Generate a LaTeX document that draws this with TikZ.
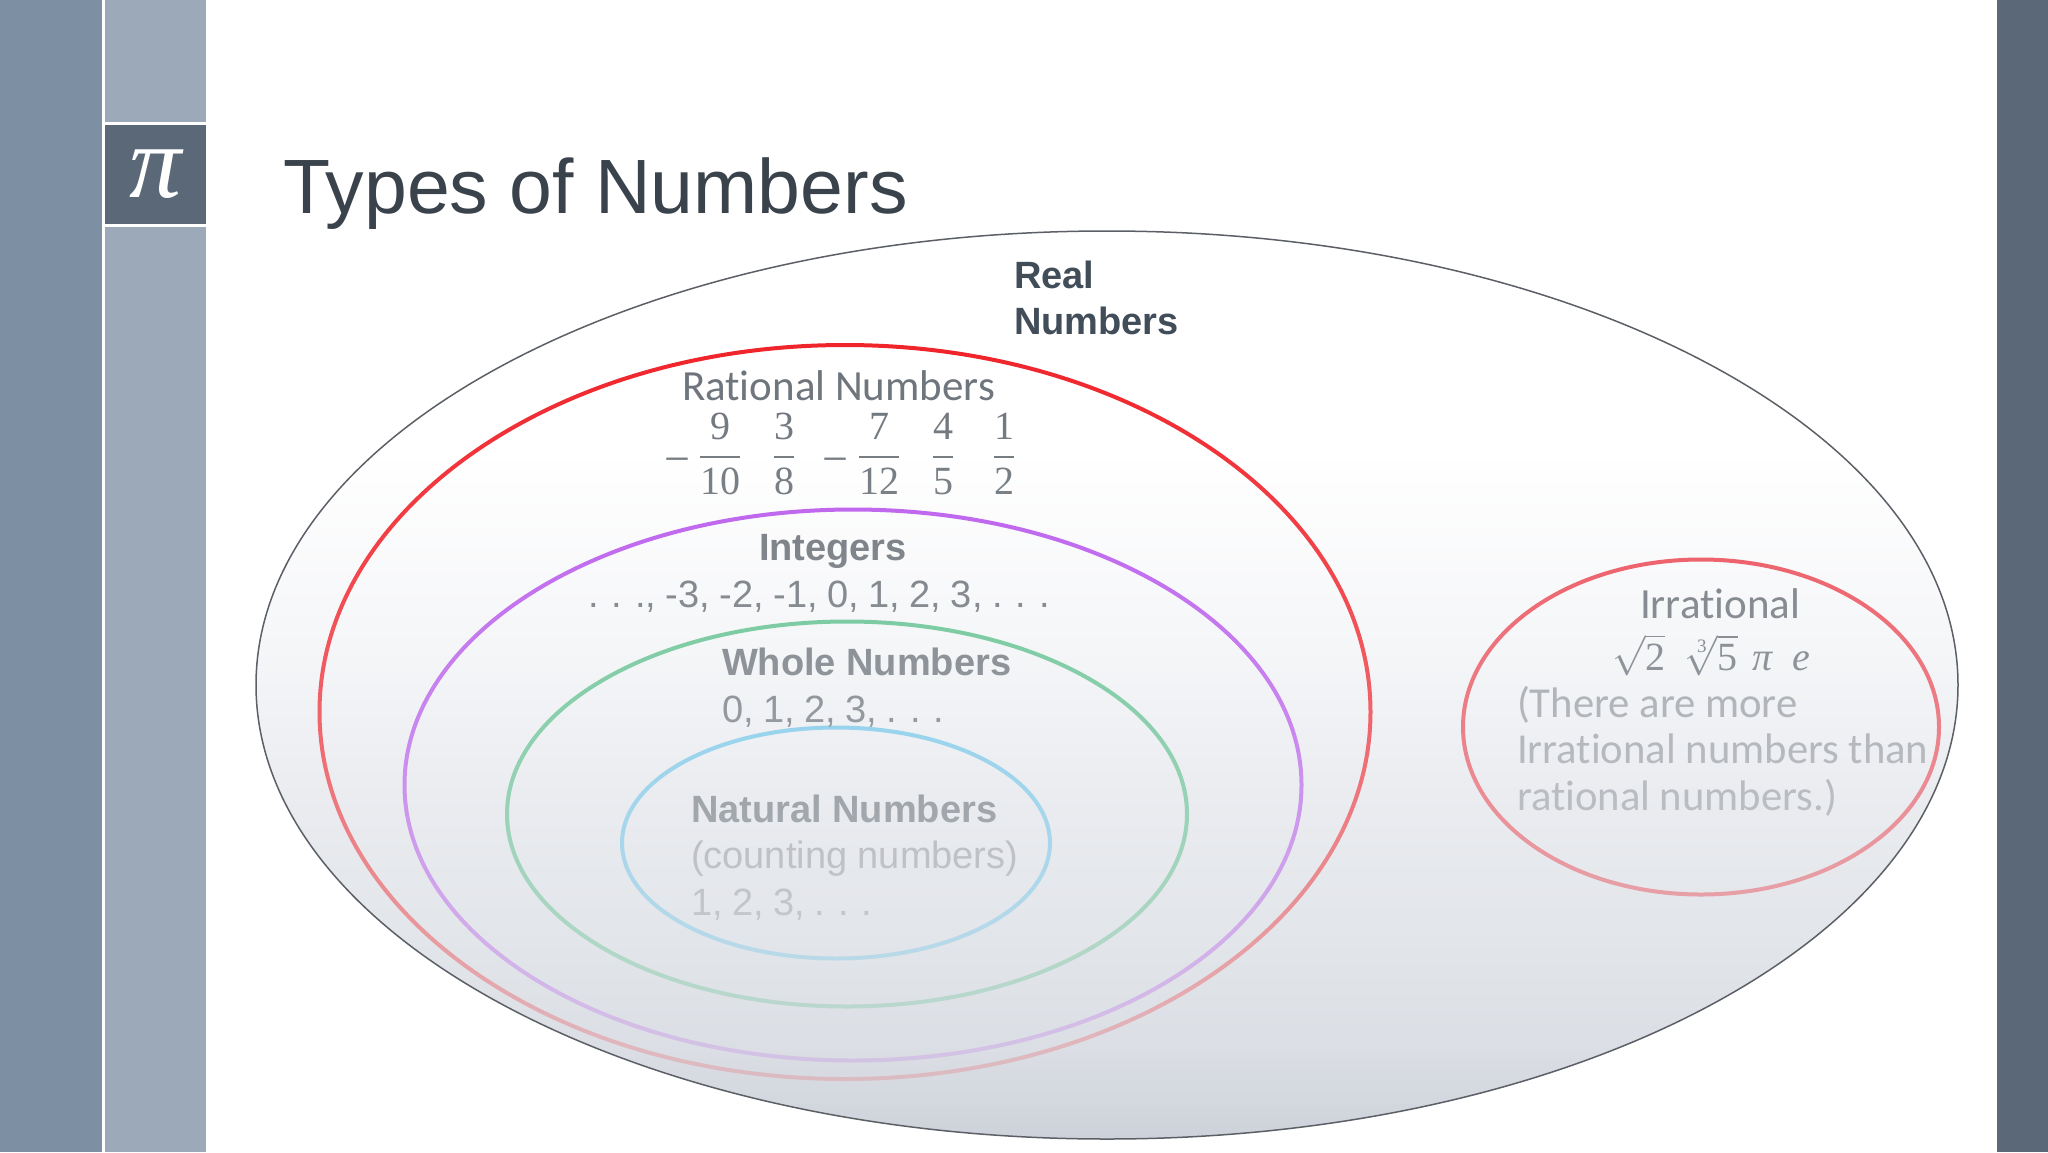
\documentclass[tikz,border=0pt]{standalone}
\usepackage{fix-cm}
\usepackage{fontspec}
\setmainfont{Liberation Sans}
\newfontfamily\softfont[Ligatures=NoCommon]{Carlito}
\newfontfamily\digitfont{Liberation Serif}
\usetikzlibrary{shapes.geometric,fadings}
\definecolor{barlight}{HTML}{7C8FA3}
\definecolor{barmid}{HTML}{9CA9B8}
\definecolor{bardark}{HTML}{5B6877}
\definecolor{titleink}{HTML}{3A424B}
\definecolor{realink}{HTML}{414D59}
\definecolor{numink}{HTML}{6B7279}
\definecolor{paleink}{HTML}{979CA2}
\definecolor{rimgray}{HTML}{5C6066}
\definecolor{ratred}{HTML}{F0242B}
\definecolor{intpurple}{HTML}{B855EC}
\definecolor{wholegreen}{HTML}{5CC08C}
\definecolor{natblue}{HTML}{6FC6EA}
\definecolor{irrred}{HTML}{EB4A55}
\definecolor{shadea}{HTML}{CDD2DA}
\definecolor{shadeb}{HTML}{DBDEE4}
\definecolor{shadec}{HTML}{E2E5E9}
\definecolor{shaded}{HTML}{EAECF0}
\definecolor{shadee}{HTML}{F5F6F8}
\pgfdeclareverticalshading{realshade}{100bp}{color(0bp)=(shadea); color(25bp)=(shadea); color(30bp)=(shadeb); color(36bp)=(shadec); color(44bp)=(shaded); color(52bp)=(shadee); color(63bp)=(white); color(100bp)=(white)}
\pgfdeclareverticalshading{veilshade}{100bp}{color(0bp)=(black!10); color(1.1bp)=(black!10); color(8.85bp)=(black!20); color(22.3bp)=(black!45); color(36.6bp)=(black!67); color(51.4bp)=(black!85); color(70bp)=(black); color(100bp)=(black)}
\pgfdeclarefading{veilfade}{\pgfuseshading{veilshade}}
\newcommand\fracnum[2]{$\displaystyle{\hbox{\digitfont #1}\above 2.5pt\hbox{\digitfont #2}}$}
\newcommand\listtext[1]{\spaceskip=9.5pt\relax #1}
\tikzset{
	ring/.style={draw,ellipse,inner sep=0,outer sep=0,line width=4pt},
	numlabel/.style={anchor=base west,inner sep=0,outer sep=0,text=numink,font=\fontsize{38}{46}\selectfont},
	boldlabel/.style={numlabel,font=\fontsize{38}{46}\selectfont\bfseries},
	softlabel/.style={numlabel,font=\fontsize{43}{46}\selectfont\softfont},
	notelabel/.style={numlabel,text=paleink,font=\fontsize{42.7}{46}\selectfont\softfont},
	fraclabel/.style={anchor=center,inner sep=0,outer sep=0,text=numink,font=\fontsize{40}{46}\selectfont},
	minuslabel/.style={fraclabel,font=\fontsize{46}{46}\selectfont\digitfont},
	rootlabel/.style={numlabel,font=\fontsize{40}{46}\selectfont},
}
\begin{document}
\begin{tikzpicture}[x=1pt,y=-1pt]
	\useasboundingbox (0,0) rectangle (2048,1152);
	\fill[white] (0,0) rectangle (2048,1152);
	\fill[barlight] (0,0) rectangle (102,1152);
	\fill[barmid] (105,0) rectangle (206,1152);
	\fill[bardark] (1997,0) rectangle (2048,1152);
	\fill[white] (105,122) rectangle (206,227);
	\node[fill=bardark,inner sep=0,outer sep=0,minimum width=101pt,minimum height=99pt,text=white,font=\fontsize{104}{104}\selectfont\digitfont\itshape] (pibox) at (155.5,174.5) {π};
	\node[anchor=base west,inner sep=0,outer sep=0,text=titleink,font=\fontsize{77}{77}\selectfont] (title) at (283,213) {Types of Numbers};
	\node[ellipse,inner sep=0,outer sep=0,minimum width=1702pt,minimum height=908pt,shading=realshade] (real) at (1107,685) {};
	\node[ring,draw=ratred,minimum width=1051pt,minimum height=734pt] (rational) at (845,712) {};
	\node[ring,draw=intpurple,minimum width=897pt,minimum height=551pt] (integers) at (853,785) {};
	\node[ring,draw=wholegreen,minimum width=680pt,minimum height=385pt] (whole) at (847,814) {};
	\node[ring,draw=natblue,minimum width=428pt,minimum height=231pt] (natural) at (836,843) {};
	\node[ring,draw=irrred,minimum width=476pt,minimum height=335pt] (irrational) at (1701,727) {};
	\node[softlabel] (rattitle) at (682,400) {Rational Numbers};
	\node[minuslabel] (minusa) at (677,466) {−};
	\node[fraclabel] (fraca) at (720,454) {\fracnum{9}{10}};
	\node[fraclabel] (fracb) at (784,454) {\fracnum{3}{8}};
	\node[minuslabel] (minusb) at (835,466) {−};
	\node[fraclabel] (fracc) at (879,454) {\fracnum{7}{12}};
	\node[fraclabel] (fracd) at (943,454) {\fracnum{4}{5}};
	\node[fraclabel] (frace) at (1004,454) {\fracnum{1}{2}};
	\node[boldlabel] (inttitle) at (759,560) {Integers};
	\node[numlabel] (intlist) at (588,607) {\listtext{. . ., -3, -2, -1, 0, 1, 2, 3, . . .}};
	\node[boldlabel] (wholetitle) at (722,675) {Whole Numbers};
	\node[numlabel] (wholelist) at (722,722) {\listtext{0, 1, 2, 3, . . .}};
	\node[boldlabel] (nattitle) at (691,822) {Natural Numbers};
	\node[numlabel,text=paleink] (natnote) at (691,868) {(counting numbers)};
	\node[numlabel,text=paleink] (natlist) at (691,915) {\listtext{1, 2, 3, . . .}};
	\node[softlabel] (irrtitle) at (1640,618) {Irrational};
	\node[rootlabel] (rootb) at (1612,670) {$\sqrt{\hbox{\digitfont 2}}$};
	\node[rootlabel] (rootc) at (1686,670) {$\sqrt[\hbox{\fontsize{19}{19}\digitfont 3}]{\hbox{\digitfont 5}}$};
	\node[rootlabel] (piletter) at (1752,670) {\digitfont\itshape π};
	\node[rootlabel] (eletter) at (1792,670) {\digitfont\itshape e};
	\node[notelabel] (irrnotea) at (1517,717) {(There are more};
	\node[notelabel] (irrnoteb) at (1517,763) {Irrational numbers than};
	\node[notelabel] (irrnotec) at (1517,810) {rational numbers.)};
	\node[ellipse,inner sep=0,outer sep=0,minimum width=1702pt,minimum height=908pt,shading=realshade,path fading=veilfade,fit fading=false,fading transform={xshift=1024pt,yshift=-576pt,xscale=22,yscale=11.48}] (veil) at (1107,685) {};
	\node[draw=rimgray,line width=1.5pt,ellipse,inner sep=0,outer sep=0,minimum width=1702pt,minimum height=908pt] (realrim) at (1107,685) {};
	\node[anchor=base west,inner sep=0,outer sep=0,text=realink,font=\fontsize{38}{46}\selectfont\bfseries] (realtitle) at (1014,288) {Real};
	\node[anchor=base west,inner sep=0,outer sep=0,text=realink,font=\fontsize{38}{46}\selectfont\bfseries] (realtitleb) at (1014,334) {Numbers};
\end{tikzpicture}
\end{document}
